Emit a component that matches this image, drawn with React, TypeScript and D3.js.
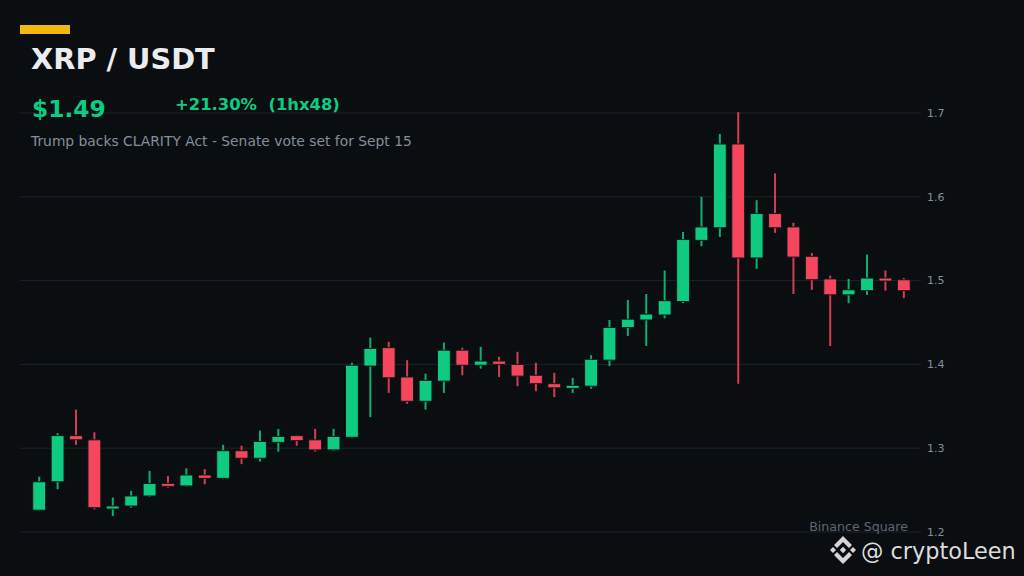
import React, { useEffect, useRef } from 'react';
import * as d3 from 'd3';

// 48 hourly candles
const opens = [
  1.226, 1.260, 1.315, 1.310, 1.229, 1.231, 1.243, 1.258, 1.255, 1.268, 1.264, 1.297,
  1.288, 1.307, 1.315, 1.310, 1.298, 1.313, 1.398, 1.420, 1.385, 1.356, 1.380, 1.417,
  1.399, 1.404, 1.400, 1.387, 1.377, 1.372, 1.374, 1.405, 1.444, 1.453, 1.459, 1.475,
  1.548, 1.563, 1.663, 1.527, 1.580, 1.564, 1.529, 1.502, 1.483, 1.488, 1.503, 1.501,
];
const closes = [
  1.260, 1.315, 1.310, 1.229, 1.231, 1.243, 1.258, 1.255, 1.268, 1.264, 1.297, 1.288,
  1.308, 1.314, 1.309, 1.298, 1.314, 1.399, 1.419, 1.384, 1.356, 1.381, 1.417, 1.399,
  1.404, 1.400, 1.386, 1.377, 1.372, 1.375, 1.406, 1.444, 1.454, 1.460, 1.476, 1.549,
  1.564, 1.663, 1.527, 1.580, 1.563, 1.528, 1.501, 1.483, 1.489, 1.503, 1.500, 1.488,
];
const highs = [
  1.266, 1.318, 1.346, 1.319, 1.241, 1.249, 1.273, 1.267, 1.276, 1.275, 1.304, 1.303,
  1.321, 1.323, 1.316, 1.323, 1.323, 1.402, 1.432, 1.427, 1.405, 1.389, 1.426, 1.420,
  1.421, 1.409, 1.415, 1.402, 1.390, 1.384, 1.411, 1.453, 1.477, 1.484, 1.512, 1.558,
  1.600, 1.675, 1.701, 1.596, 1.628, 1.569, 1.533, 1.506, 1.502, 1.531, 1.512, 1.503,
];
const lows = [
  1.225, 1.251, 1.304, 1.227, 1.219, 1.229, 1.242, 1.253, 1.254, 1.257, 1.263, 1.281,
  1.284, 1.296, 1.303, 1.296, 1.297, 1.312, 1.337, 1.366, 1.353, 1.346, 1.366, 1.387,
  1.395, 1.385, 1.374, 1.368, 1.361, 1.366, 1.371, 1.398, 1.434, 1.422, 1.455, 1.473,
  1.541, 1.552, 1.377, 1.514, 1.557, 1.484, 1.489, 1.422, 1.473, 1.483, 1.488, 1.479,
];
const yTicks = [1.2, 1.3, 1.4, 1.5, 1.6, 1.7];

const title = 'XRP / USDT';
const priceLabel = '$1.49';
const changeLabel = '+21.30%  (1hx48)';
const subtitle = 'Trump backs CLARITY Act - Senate vote set for Sept 15';

const W = 1024;
const H = 576;
const BG = '#0b0e11';
const UP = '#0ecb81';
const DOWN = '#f6465d';
const FONT = '"DejaVu Sans", sans-serif';

const App: React.FC = () => {
  const svgRef = useRef<SVGSVGElement>(null);

  useEffect(() => {
    if (!svgRef.current) return;
    const svg = d3.select(svgRef.current).html('');

    svg.append('rect').attr('width', W).attr('height', H).attr('fill', BG);

    const x = d3.scaleBand<number>()
      .domain(d3.range(opens.length))
      .range([30, 913])
      .paddingInner(0.3)
      .paddingOuter(0.15);
    const y = d3.scaleLinear().domain([1.2, 1.7]).range([532, 113]);

    // grid + right labels
    const grid = svg.append('g');
    grid.selectAll('line')
      .data(yTicks)
      .join('line')
      .attr('x1', 20)
      .attr('x2', 921)
      .attr('y1', (d) => y(d))
      .attr('y2', (d) => y(d))
      .attr('stroke', '#1e2329')
      .attr('stroke-width', 1);
    grid.selectAll('text')
      .data(yTicks)
      .join('text')
      .attr('x', 927)
      .attr('y', (d) => y(d))
      .attr('dy', '0.35em')
      .attr('fill', '#848e9c')
      .attr('font-family', FONT)
      .attr('font-size', 11)
      .text((d) => d3.format('.1f')(d));

    // header
    svg.append('rect').attr('x', 20).attr('y', 25).attr('width', 50).attr('height', 9).attr('fill', '#f0b90b');
    svg.append('text')
      .attr('x', 31).attr('y', 69)
      .attr('fill', '#eaecef')
      .attr('font-family', FONT)
      .attr('font-weight', 'bold')
      .attr('font-size', 28.8)
      .text(title);
    svg.append('text')
      .attr('x', 32).attr('y', 117)
      .attr('fill', UP)
      .attr('font-family', FONT)
      .attr('font-weight', 'bold')
      .attr('font-size', 23.3)
      .text(priceLabel);
    svg.append('text')
      .attr('x', 175).attr('y', 110)
      .attr('fill', UP)
      .attr('font-family', FONT)
      .attr('font-weight', 'bold')
      .attr('font-size', 16.4)
      .attr('xml:space', 'preserve')
      .style('white-space', 'pre')
      .text(changeLabel);
    svg.append('text')
      .attr('x', 31).attr('y', 146)
      .attr('fill', '#848e9c')
      .attr('font-family', FONT)
      .attr('font-size', 13.85)
      .text(subtitle);

    // candles
    const candles = svg.append('g')
      .selectAll('g')
      .data(d3.range(opens.length))
      .join('g');
    const col = (i: number) => (closes[i] >= opens[i] ? UP : DOWN);
    candles.append('line')
      .attr('x1', (i) => x(i)! + x.bandwidth() / 2)
      .attr('x2', (i) => x(i)! + x.bandwidth() / 2)
      .attr('y1', (i) => y(highs[i]))
      .attr('y2', (i) => y(lows[i]))
      .attr('stroke', col)
      .attr('stroke-opacity', 0.85)
      .attr('stroke-width', 2);
    candles.append('rect')
      .attr('x', (i) => x(i)!)
      .attr('width', x.bandwidth())
      .attr('y', (i) => y(Math.max(opens[i], closes[i])))
      .attr('height', (i) => Math.max(3, Math.abs(y(opens[i]) - y(closes[i]))))
      .attr('rx', 1)
      .attr('fill', col)
      .attr('stroke', '#0d1a16')
      .attr('stroke-width', 1);

    // watermark
    svg.append('text')
      .attr('x', 908).attr('y', 531)
      .attr('text-anchor', 'end')
      .attr('fill', '#5e6673')
      .attr('font-family', FONT)
      .attr('font-size', 12.6)
      .text('Binance Square');
    const logo = svg.append('g').attr('transform', 'translate(843,550)').attr('fill', '#d6d6d6');
    const diamond = (cx: number, cy: number, r: number) =>
      `M${cx},${cy - r}L${cx + r},${cy}L${cx},${cy + r}L${cx - r},${cy}Z`;
    logo.append('path').attr('d', diamond(0, 0, 3.2));
    logo.append('path').attr('d', diamond(-10, 0, 3));
    logo.append('path').attr('d', diamond(10, 0, 3));
    logo.append('path').attr('d', 'M0,-14L9,-5L6,-2L0,-8L-6,-2L-9,-5Z');
    logo.append('path').attr('d', 'M0,14L9,5L6,2L0,8L-6,2L-9,5Z');
    svg.append('text')
      .attr('x', 861).attr('y', 559)
      .attr('fill', '#dcdcdc')
      .attr('font-family', FONT)
      .attr('font-size', 22.4)
      .text('@ cryptoLeen');
  }, []);

  return (
    <svg
      ref={svgRef}
      width={W}
      height={H}
      style={{ position: 'absolute', left: 0, top: 0, display: 'block' }}
    />
  );
};

export default App;
